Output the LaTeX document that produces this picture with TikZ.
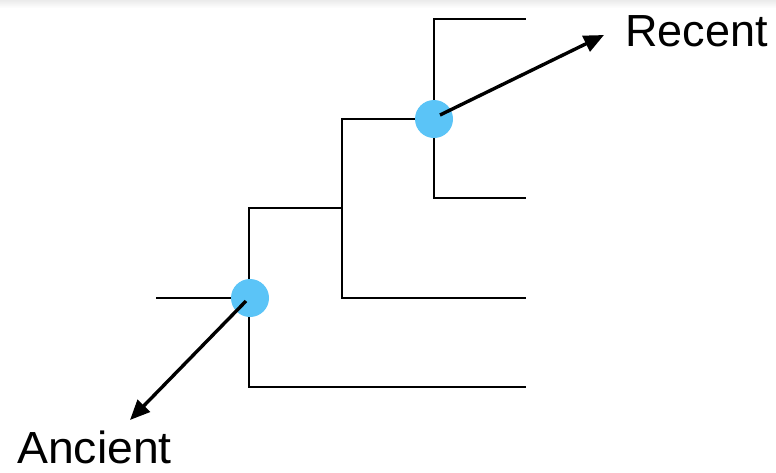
\documentclass[tikz,border=0pt]{standalone}
\usepackage{fontspec}
\setmainfont{Liberation Sans}
\usetikzlibrary{arrows.meta}
\definecolor{nodeblue}{RGB}{91,196,247}
\tikzset{
  branch/.style={line width=2pt, line cap=rect},
  pointer/.style={line width=3.4pt, -{Triangle[length=20pt,width=17pt]}},
  dot/.style={circle, fill=nodeblue, minimum size=38pt, inner sep=0pt},
  lbl/.style={font=\fontsize{45}{50}\selectfont, inner sep=0pt, anchor=base west}
}
\begin{document}
\begin{tikzpicture}[x=1pt,y=-1pt]
\useasboundingbox (0,0) rectangle (776,472);
\fill[white] (0,0) rectangle (776,472);
\shade[top color=black!8, bottom color=white] (0,0) rectangle (776,8);
% tree coordinates
\coordinate (r0) at (157,298);
\coordinate (a) at (249,298);
\coordinate (aT) at (249,208);
\coordinate (aB) at (249,387);
\coordinate (l4) at (525,387);
\coordinate (c) at (342,208);
\coordinate (cT) at (342,119);
\coordinate (cB) at (342,298);
\coordinate (l3) at (525,298);
\coordinate (b) at (434,119);
\coordinate (bT) at (434,19);
\coordinate (bB) at (434,198);
\coordinate (l1) at (525,19);
\coordinate (l2) at (525,198);
\draw[branch] (r0) -- (a);
\draw[branch] (l4) -- (aB) -- (aT) -- (c);
\draw[branch] (l3) -- (cB) -- (cT) -- (b);
\draw[branch] (l2) -- (bB) -- (bT) -- (l1);
\node[dot] (A) at (250,298) {};
\node[dot] (B) at (434,119) {};
\node[lbl] (recent) at (625,46) {Recent};
\node[lbl, xscale=1.03] (ancient) at (17,463) {Ancient};
\coordinate (recentTip) at (604,35);
\coordinate (ancientTip) at (130,420);
\coordinate (bs) at (440,115);
\coordinate (as) at (246,301);
\draw[pointer] (bs) -- (recentTip);
\draw[pointer] (as) -- (ancientTip);
\end{tikzpicture}
\end{document}
